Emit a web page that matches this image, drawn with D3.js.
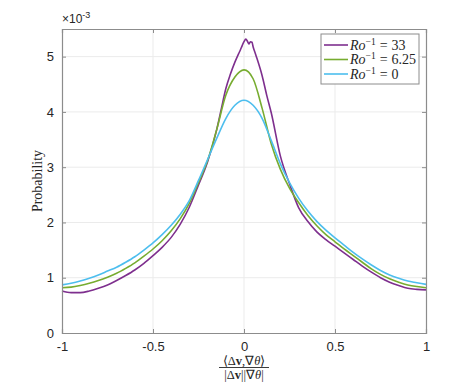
<!DOCTYPE html>
<html>
<head>
<meta charset="utf-8">
<script src="https://cdn.jsdelivr.net/npm/d3@7"></script>
<style>
  body { margin: 0; background: #fff; }
  text { font-family: "Liberation Sans", Arial, sans-serif; }
  .serif { font-family: "Liberation Serif", "Times New Roman", serif; }
</style>
</head>
<body>
<div id="chart"></div>
<script>
// values in units of 1e-3
var xs = [-1, -0.95, -0.9, -0.85, -0.8, -0.75, -0.7, -0.65, -0.6, -0.55, -0.5, -0.45, -0.4, -0.35, -0.3, -0.25, -0.2, -0.15, -0.1, -0.05,
  0, 0.05, 0.1, 0.15, 0.2, 0.25, 0.3, 0.35, 0.4, 0.45, 0.5, 0.55, 0.6, 0.65, 0.7, 0.75, 0.8, 0.85, 0.9, 0.95, 1];
var ro0 = [0.87, 0.90, 0.94, 0.99, 1.05, 1.12, 1.19, 1.28, 1.38, 1.50, 1.63, 1.78, 1.95, 2.15, 2.40, 2.76, 3.14, 3.52, 3.88, 4.12,
  4.21, 4.12, 3.88, 3.48, 3.06, 2.72, 2.44, 2.21, 2.02, 1.86, 1.72, 1.59, 1.46, 1.34, 1.23, 1.13, 1.05, 0.99, 0.94, 0.91, 0.88];
var ro625 = [0.82, 0.83, 0.86, 0.90, 0.95, 1.01, 1.08, 1.17, 1.27, 1.39, 1.52, 1.67, 1.85, 2.07, 2.35, 2.72, 3.12, 3.68, 4.30, 4.63,
  4.76, 4.60, 4.06, 3.42, 2.96, 2.62, 2.36, 2.13, 1.94, 1.78, 1.65, 1.52, 1.40, 1.28, 1.16, 1.06, 0.98, 0.92, 0.87, 0.84, 0.82];
var xs33 = [-1, -0.95, -0.9, -0.85, -0.8, -0.75, -0.7, -0.65, -0.6, -0.55, -0.5, -0.45, -0.4, -0.35, -0.3, -0.25, -0.2, -0.15, -0.125, -0.1, -0.075, -0.05,
  -0.03, -0.02, -0.01, 0, 0.01, 0.02, 0.027, 0.035, 0.044, 0.05, 0.065, 0.1, 0.125, 0.15, 0.2, 0.25, 0.3, 0.35, 0.4, 0.45, 0.5,
  0.55, 0.6, 0.65, 0.7, 0.75, 0.8, 0.85, 0.9, 0.95, 1];
var ro33 = [0.76, 0.73, 0.73, 0.76, 0.81, 0.87, 0.95, 1.04, 1.14, 1.26, 1.40, 1.55, 1.73, 1.97, 2.28, 2.68, 3.10, 3.68, 4.05, 4.42, 4.68, 4.90,
  5.05, 5.12, 5.20, 5.27, 5.32, 5.27, 5.23, 5.27, 5.26, 5.18, 5.03, 4.65, 4.30, 3.98, 3.20, 2.70, 2.27, 2.02, 1.83, 1.69, 1.57,
  1.45, 1.33, 1.21, 1.10, 1.00, 0.92, 0.86, 0.81, 0.79, 0.78];

var labels = ["33", "6.25", "0"];
var colors = ["#7E2F8E", "#77AC30", "#4DBEEE"];
var xTicks = [-1, -0.5, 0, 0.5, 1];
var yTicks = [0, 1, 2, 3, 4, 5];

var series = [
  {x: xs33, y: ro33},
  {x: xs, y: ro625},
  {x: xs, y: ro0}
];

var W = 474, H = 390;
var m = {l: 62, r: 48, t: 29, b: 57};
var w = W - m.l - m.r, h = H - m.t - m.b;

var svg = d3.select("#chart").append("svg").attr("width", W).attr("height", H);
var g = svg.append("g").attr("transform", "translate(" + m.l + "," + m.t + ")");

var x = d3.scaleLinear().domain([-1, 1]).range([0, w]);
var y = d3.scaleLinear().domain([0, 5.5]).range([h, 0]);

// grid
g.append("g").selectAll("line").data(xTicks.slice(1, -1)).enter().append("line")
  .attr("x1", d => x(d)).attr("x2", d => x(d)).attr("y1", 0).attr("y2", h)
  .attr("stroke", "#ebebeb").attr("stroke-width", 1);
g.append("g").selectAll("line").data(yTicks.slice(1)).enter().append("line")
  .attr("y1", d => y(d)).attr("y2", d => y(d)).attr("x1", 0).attr("x2", w)
  .attr("stroke", "#ebebeb").attr("stroke-width", 1);

// curves
var line = d3.line().x(d => x(d[0])).y(d => y(d[1])).curve(d3.curveMonotoneX);
series.forEach(function(s, i) {
  g.append("path").datum(d3.zip(s.x, s.y)).attr("d", line)
    .attr("fill", "none").attr("stroke", colors[i]).attr("stroke-width", 1.6)
    .attr("stroke-linejoin", "round");
});

// axes (box with inward ticks)
var axCol = "#8c8c8c";
var fmt = d => String(d);
var xa = g.append("g").attr("transform", "translate(0," + h + ")")
  .call(d3.axisBottom(x).tickValues(xTicks).tickSize(-4).tickPadding(9).tickFormat(fmt));
var ya = g.append("g")
  .call(d3.axisLeft(y).tickValues(yTicks).tickSize(-4).tickPadding(8).tickFormat(fmt));
var xt = g.append("g").call(d3.axisTop(x).tickValues(xTicks).tickSize(-4).tickFormat(""));
var yr = g.append("g").attr("transform", "translate(" + w + ",0)")
  .call(d3.axisRight(y).tickValues(yTicks).tickSize(-4).tickFormat(""));
[xa, ya, xt, yr].forEach(function(a) {
  a.select(".domain").attr("stroke", axCol).attr("stroke-width", 1.2);
  a.selectAll(".tick line").attr("stroke", axCol);
  a.selectAll(".tick text").attr("fill", "#262626").style("font-size", "13px")
    .style("font-family", "'Liberation Sans', Arial, sans-serif");
});

// exponent label
var ex = svg.append("text").attr("x", m.l).attr("y", m.t - 6).attr("fill", "#262626").style("font-size", "12px");
ex.append("tspan").text("\u00d710");
ex.append("tspan").attr("dy", -5).style("font-size", "9px").text("-3");

// y label
svg.append("text").attr("class", "serif")
  .attr("transform", "translate(42," + (m.t + h / 2) + ") rotate(-90)")
  .attr("text-anchor", "middle").attr("fill", "#262626").style("font-size", "14px")
  .text("Probability");

// x label: fraction
var cx = m.l + x(0);
var num = svg.append("text").attr("class", "serif").attr("x", cx).attr("y", 365)
  .attr("text-anchor", "middle").attr("fill", "#262626").style("font-size", "12.5px");
num.append("tspan").text("\u27e8\u0394");
num.append("tspan").style("font-weight", "bold").text("v");
num.append("tspan").text(",\u2207");
num.append("tspan").style("font-style", "italic").text("\u03b8");
num.append("tspan").text("\u27e9");
svg.append("line").attr("x1", cx - 25).attr("x2", cx + 25).attr("y1", 367.5).attr("y2", 367.5)
  .attr("stroke", "#262626").attr("stroke-width", 0.9);
var den = svg.append("text").attr("class", "serif").attr("x", cx).attr("y", 379)
  .attr("text-anchor", "middle").attr("fill", "#262626").style("font-size", "12.5px");
den.append("tspan").text("|\u0394");
den.append("tspan").style("font-weight", "bold").text("v");
den.append("tspan").text("||\u2207");
den.append("tspan").style("font-style", "italic").text("\u03b8");
den.append("tspan").text("|");

// legend
var lg = svg.append("g").attr("transform", "translate(321,34)");
lg.append("rect").attr("width", 98).attr("height", 50).attr("fill", "#fff")
  .attr("stroke", "#8c8c8c").attr("stroke-width", 1);
labels.forEach(function(lb, i) {
  var yy = 11 + i * 14.5;
  lg.append("line").attr("x1", 3).attr("x2", 27).attr("y1", yy).attr("y2", yy)
    .attr("stroke", colors[i]).attr("stroke-width", 1.6);
  var t = lg.append("text").attr("class", "serif").attr("x", 29).attr("y", yy + 4.5)
    .attr("fill", "#262626").style("font-size", "14px");
  t.append("tspan").style("font-style", "italic").text("Ro");
  t.append("tspan").attr("dy", -5).style("font-size", "9.5px").text("\u22121");
  t.append("tspan").attr("dy", 5).attr("dx", 4).text("=");
  t.append("tspan").attr("dx", 4).text(lb);
});
</script>
</body>
</html>
